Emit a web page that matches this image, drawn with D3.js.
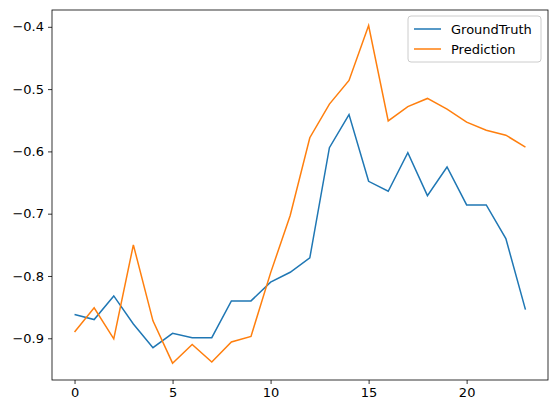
<!DOCTYPE html><html><head><script src="https://cdn.jsdelivr.net/npm/d3@7"></script>
<style>body{margin:0;background:#fff}text{font-family:"DejaVu Sans";}</style></head><body>
<svg id="c" width="559" height="413"></svg>
<script>
const steps=d3.range(24);
const groundTruth=[-0.862,-0.870,-0.832,-0.877,-0.915,-0.892,-0.899,-0.899,-0.840,-0.840,-0.810,-0.794,-0.771,-0.594,-0.541,-0.648,-0.664,-0.602,-0.671,-0.625,-0.686,-0.686,-0.740,-0.854];
const prediction=[-0.890,-0.851,-0.901,-0.750,-0.872,-0.940,-0.910,-0.938,-0.906,-0.897,-0.795,-0.703,-0.578,-0.524,-0.486,-0.398,-0.551,-0.528,-0.515,-0.532,-0.553,-0.566,-0.574,-0.593];
const xTicks=[0,5,10,15,20];
const yTicks=[-0.4,-0.5,-0.6,-0.7,-0.8,-0.9];
const svg=d3.select("#c");
const L=52,R=548,T=10,B=380;
const x=d3.scaleLinear().domain([-1.15,24.15]).range([L,R]);
const y=d3.scaleLinear().domain([-0.967,-0.373]).range([B,T]);
const fmt=v=>(v<0?"\u2212":"")+Math.abs(v).toFixed(1);
svg.append("g").attr("transform",`translate(0,${B})`).call(d3.axisBottom(x).tickValues(xTicks).tickSize(4).tickPadding(4)).call(g=>g.select(".domain").remove()).selectAll("text").attr("font-size",13).attr("fill","#000");
svg.append("g").attr("transform",`translate(${L},0)`).call(d3.axisLeft(y).tickValues(yTicks).tickFormat(fmt).tickSize(4).tickPadding(4)).call(g=>g.select(".domain").remove()).selectAll("text").attr("font-size",13).attr("fill","#000");
svg.selectAll(".tick line").attr("stroke","#000").attr("stroke-width",0.8);
const line=d=>d3.line().x((v,i)=>x(steps[i])).y(v=>y(v))(d);
svg.append("path").attr("d",line(groundTruth)).attr("fill","none").attr("stroke","#1f77b4").attr("stroke-width",1.5);
svg.append("path").attr("d",line(prediction)).attr("fill","none").attr("stroke","#ff7f0e").attr("stroke-width",1.5);
svg.append("rect").attr("x",L).attr("y",T).attr("width",R-L).attr("height",B-T).attr("fill","none").attr("stroke","#000").attr("stroke-width",0.8);
const lg=svg.append("g").attr("transform","translate(408,16)");
lg.append("rect").attr("width",133).attr("height",46).attr("rx",3).attr("fill","#fff").attr("fill-opacity",0.8).attr("stroke","#ccc");
[["GroundTruth","#1f77b4"],["Prediction","#ff7f0e"]].forEach(([n,c],i)=>{
 lg.append("line").attr("x1",6).attr("x2",33).attr("y1",13+i*20).attr("y2",13+i*20).attr("stroke",c).attr("stroke-width",1.5);
 lg.append("text").attr("x",43).attr("y",18+i*20).attr("font-size",13).text(n);
});
</script></body></html>
